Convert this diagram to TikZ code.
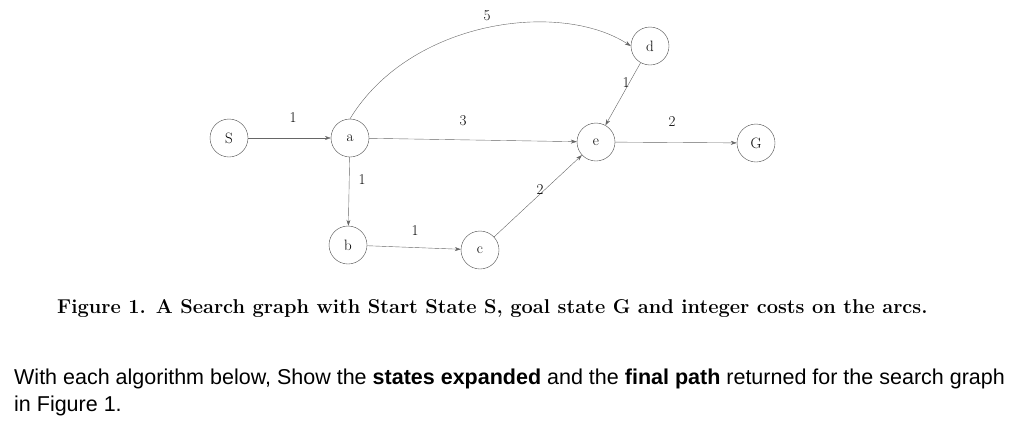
\documentclass[tikz,border=0pt]{standalone}
\usepackage{fontspec}
\newfontfamily\arial{Liberation Sans}
\usetikzlibrary{arrows.meta}
\begin{document}
\begin{tikzpicture}[x=1pt,y=-1pt,
  st/.style={circle,draw=black!70,minimum size=38pt,inner sep=0pt,font=\fontsize{15}{15}\selectfont},
  ed/.style={draw=black!60,-{Stealth[length=6pt,width=4pt]}},
  lb/.style={font=\fontsize{15}{15}\selectfont,inner sep=1pt}]
\useasboundingbox (0,0) rectangle (1015,421);
\node[st] (S) at (229,138) {S};
\node[st] (a) at (350,138) {a};
\node[st] (b) at (348,245) {b};
\node[st] (c) at (480,250) {c};
\node[st] (e) at (596,142) {e};
\node[st] (d) at (650,46) {d};
\node[st] (G) at (756,143) {G};
\draw[ed] (S) -- (a);
\draw[ed] (a) -- (e);
\draw[ed] (a) -- (b);
\draw[ed] (b) -- (c);
\draw[ed] (c) -- (e);
\draw[ed] (d) -- (e);
\draw[ed] (e) -- (G);
\draw[ed] (a.north) .. controls (410,20) and (560,0) .. (d.west);
\node[lb] (l1) at (293,118) {1};
\node[lb] (l2) at (463,121) {3};
\node[lb] (l3) at (487,16) {5};
\node[lb] (l4) at (362,180) {1};
\node[lb] (l5) at (415,231) {1};
\node[lb] (l6) at (540,190) {2};
\node[lb] (l7) at (626,83) {1};
\node[lb] (l8) at (672,122) {2};
\node[anchor=west,inner sep=0pt,font=\fontsize{20}{20}\selectfont\bfseries] (cap) at (57,309) {Figure 1. A Search graph with Start State S, goal state G and integer costs on the arcs.};
\node[anchor=west,inner sep=0pt,font=\arial\fontsize{21.5}{21.5}\selectfont] (t1) at (14,379) {With each algorithm below, Show the \textbf{states expanded} and the \textbf{final path} returned for the search graph};
\node[anchor=west,inner sep=0pt,font=\arial\fontsize{21.5}{21.5}\selectfont] (t2) at (14,406) {in Figure 1.};
\end{tikzpicture}
\end{document}
